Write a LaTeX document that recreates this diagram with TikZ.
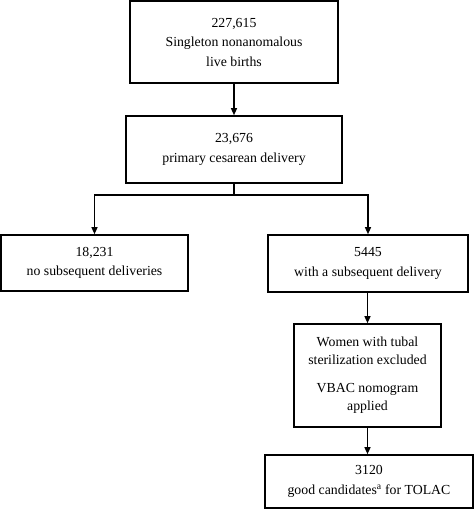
\documentclass[tikz,border=0pt]{standalone}
\usepackage{fontspec}
\setmainfont{Liberation Serif}
\usetikzlibrary{arrows.meta}
\begin{document}
\begin{tikzpicture}[x=1pt,y=-1pt,
  box/.style={draw, line width=1.6pt, rectangle, align=center, inner sep=0pt,
    font=\fontsize{13.8}{19.5}\selectfont},
  conn/.style={line width=1.2pt, -{Triangle[length=7pt,width=6pt]}},
  plain/.style={line width=1.2pt}]
\useasboundingbox (0,0) rectangle (474,509);
\node[box, minimum width=208pt, minimum height=82pt] (b1) at (234,42) {227,615\\Singleton nonanomalous\\live births};
\node[box, minimum width=216pt, minimum height=67pt] (b2) at (234,149.5) {23,676\\primary cesarean delivery};
\node[box, minimum width=187pt, minimum height=56pt] (b3) at (94.5,263) {18,231\\no subsequent deliveries};
\node[box, minimum width=200pt, minimum height=57pt] (b4) at (368,263.5) {5445\\with a subsequent delivery};
\node[box, minimum width=147pt, minimum height=103pt, font=\fontsize{13.8}{18}\selectfont] (b5) at (367.5,375.5) {Women with tubal\\sterilization excluded\\[10pt]VBAC nomogram\\applied};
\node[box, minimum width=208pt, minimum height=53pt] (b6) at (369,481.5) {3120\\good candidates\textsuperscript{a} for TOLAC};
\coordinate (split) at (234,195);
\draw[conn] (b1.south) -- (b2.north);
\draw[plain] (b2.south) -- (split);
\draw[conn] (split) -| (b3.north);
\draw[conn] (split) -| (b4.north);
\draw[conn] (b4.south -| b5.north) -- (b5.north);
\draw[conn] (b5.south) -- (b5.south |- b6.north);
\end{tikzpicture}
\end{document}
